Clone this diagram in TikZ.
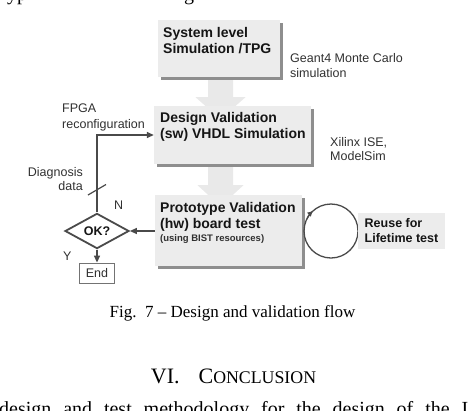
\documentclass[tikz,border=0pt]{standalone}
\usepackage{fontspec}
\newfontfamily\arialf{Liberation Sans}
\newfontfamily\timesf{Liberation Serif}
\usetikzlibrary{shapes.geometric,arrows.meta,shadows,backgrounds}

\definecolor{boxfill}{HTML}{ECECEC}
\definecolor{shadowc}{HTML}{8E8E8E}
\definecolor{arrowfill}{HTML}{E9E9E9}
\definecolor{linec}{HTML}{4A4A4A}
\definecolor{textc}{HTML}{151515}
\definecolor{notec}{HTML}{303030}

\begin{document}
\begin{tikzpicture}[x=1pt,y=-1pt,
  stagebox/.style={draw=none, fill=boxfill, inner sep=0pt,
    drop shadow={shadow xshift=3pt, shadow yshift=-3pt, fill=shadowc, opacity=1}},
  titletext/.style={font=\arialf\bfseries\fontsize{14}{16}\selectfont, align=left,
    inner sep=0pt, anchor=north west, text=textc},
  notetext/.style={font=\arialf\fontsize{12.5}{15}\selectfont, align=left,
    inner sep=0pt, text=notec},
  flow/.style={draw=linec, line width=1.4pt, -{Triangle[length=7pt,width=6pt]}},
  blockarrow/.style={fill=arrowfill, draw=none},
]
\useasboundingbox (0,0) rectangle (474,410);

% clipped fragments of the surrounding page text
\begin{scope}
\clip (0,0) rectangle (474,410);
\node[font=\timesf\fontsize{20}{24}\selectfont, inner sep=0pt, anchor=base west] (frag1) at (7,0.5) {yp};
\node[font=\timesf\fontsize{20}{24}\selectfont, inner sep=0pt, anchor=base west] (frag2) at (184,0.5) {g};
\node[font=\timesf\fontsize{20}{24}\selectfont, inner sep=0pt, anchor=base west] (bodyline) at (-1,415)
  {\makebox[469pt][s]{design and test methodology for the design of the I}};
\end{scope}

% stage boxes
\node[stagebox, minimum width=122pt, minimum height=57pt] (box1) at (219,48.5) {};
\node[stagebox, minimum width=157pt, minimum height=58pt] (box2) at (232.5,135) {};
\node[stagebox, minimum width=147pt, minimum height=71pt] (box3) at (228.5,230.5) {};

\node[titletext] (t1) at (163,27) {System level\\Simulation /TPG};
\node[titletext] (t2) at (160,112) {Design Validation\\(sw) VHDL Simulation};
\node[titletext] (t3) at (160,202) {Prototype Validation\\(hw) board test};
\node[font=\arialf\bfseries\fontsize{9.5}{11}\selectfont, inner sep=0pt, anchor=base west, text=notec] (bist) at (160,241.5) {(using BIST resources)};

% block arrows between stages
\begin{scope}[on background layer]
\coordinate (a1) at ([xshift=1.5pt]box1.south);
\fill[blockarrow] ([shift={(-12.5,0)}]a1) -- ([shift={(-12.5,20)}]a1) -- ([shift={(-25,20)}]a1)
  -- ([shift={(0,42)}]a1) -- ([shift={(25,20)}]a1) -- ([shift={(12.5,20)}]a1) -- ([shift={(12.5,0)}]a1) -- cycle;
\coordinate (a2) at ([xshift=-12pt]box2.south);
\fill[blockarrow] ([shift={(-12.5,0)}]a2) -- ([shift={(-12.5,21)}]a2) -- ([shift={(-23,21)}]a2)
  -- ([shift={(0,42)}]a2) -- ([shift={(23,21)}]a2) -- ([shift={(12.5,21)}]a2) -- ([shift={(12.5,0)}]a2) -- cycle;
\end{scope}

% side notes
\node[notetext, anchor=north west] (geant) at (290,53.5) {Geant4 Monte Carlo\\simulation};
\node[notetext, anchor=north west, font=\arialf\fontsize{12.5}{14}\selectfont] (xilinx) at (330,137.5) {Xilinx ISE,\\ModelSim};
\node[notetext, anchor=north west, font=\arialf\fontsize{12.5}{16}\selectfont] (fpga) at (62,103.5) {FPGA\\reconfiguration};
\node[notetext, anchor=north east, align=right, font=\arialf\fontsize{12.5}{14}\selectfont] (diag) at (83,167.5) {Diagnosis\\data};

% decision and end
\node[diamond, draw=linec, line width=1.8pt, fill=white, minimum width=64pt, minimum height=34pt,
  inner sep=0pt, font=\arialf\bfseries\fontsize{12.5}{15}\selectfont, text=textc] (ok) at (97,231) {OK?};
\node[draw=black!55, line width=0.8pt, fill=white, minimum width=35pt, minimum height=20pt, inner sep=0pt,
  font=\arialf\fontsize{12.5}{15}\selectfont, text=notec] (end) at (97,273) {End};
\node[notetext, anchor=base west] (nlab) at (114,209.5) {N};
\node[notetext, anchor=base west] (ylab) at (63,260.5) {Y};

% connectors
\draw[flow] (ok.north) |- (box2.west);
\coordinate (slashc) at (97,190);
\draw[draw=linec, line width=1.2pt] ([shift={(-9,5)}]slashc) -- ([shift={(9,-5.5)}]slashc);
\draw[flow] (box3.west |- ok.east) -- (ok.east);
\draw[flow] (ok.south) -- (end.north);

% reuse loop
\coordinate (loopc) at (331,231);
\draw[draw=linec, line width=1.3pt] (loopc) circle[radius=27];
\draw[draw=linec, line width=1.3pt, -{Triangle[length=5pt,width=5pt]}] (loopc) ++(207:27) arc[start angle=207, end angle=227, radius=27];
\node[fill=boxfill, minimum width=87pt, minimum height=36pt, inner xsep=6pt, inner ysep=0pt, align=left,
  font=\arialf\bfseries\fontsize{12.5}{15}\selectfont, text=textc] (reuse) at (401.5,231) {Reuse for\\Lifetime test};

% caption and heading
\node[font=\timesf\fontsize{17}{20}\selectfont, inner sep=0pt, anchor=base] (caption) at (232.5,317) {Fig.\ \ 7 – Design and validation flow};
\node[font=\timesf, inner sep=0pt, anchor=base] (heading) at (233.5,383)
  {{\fontsize{22}{26}\selectfont VI.}\hspace{19pt}{\fontsize{22}{26}\selectfont C}{\fontsize{17.8}{21}\selectfont ONCLUSION}};
\end{tikzpicture}
\end{document}
